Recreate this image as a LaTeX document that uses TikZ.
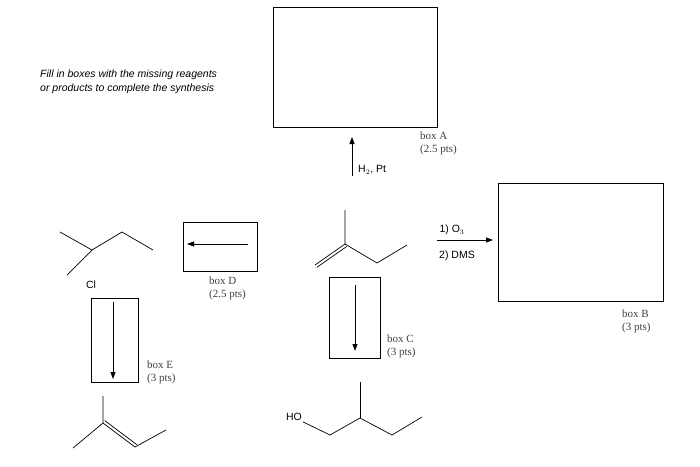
\documentclass[tikz,border=0pt]{standalone}
\usepackage{fontspec}
\setmainfont{Liberation Serif}
\newfontfamily\arialf{Liberation Sans}
\usetikzlibrary{arrows.meta,calc}
\begin{document}
\begin{tikzpicture}[x=1pt,y=-1pt,
  bx/.style={draw,line width=0.9pt},
  bond/.style={line width=0.7pt},
  rarr/.style={line width=0.8pt,-{Triangle[length=7pt,width=5pt]}},
  lab/.style={font=\fontsize{11}{13}\selectfont,text=black!75,align=left,anchor=north west,inner sep=0pt},
  chem/.style={font=\arialf\fontsize{10.5}{12}\selectfont,inner sep=1pt}]
\useasboundingbox (0,0) rectangle (700,466);
\node[lab,font=\arialf\itshape\fontsize{10.5}{14}\selectfont,text=black] (title) at (40,70) {Fill in boxes with the missing reagents\\or products to complete the synthesis};
% box A
\draw[bx] (273,7) rectangle (437,127);
\node[lab] (la) at (420,132) {box A\\(2.5 pts)};
\coordinate (h1) at (352,176); \coordinate (h2) at (352,137);
\draw[rarr] (h1) -- (h2);
\node[chem,anchor=west] (hpt) at (357,170) {H$_2$, Pt};
% center molecule
\coordinate (c1) at (345,210); \coordinate (c2) at (345,244);
\coordinate (c3) at (315,265); \coordinate (c4) at (377,263); \coordinate (c5) at (407,245);
\draw[bond] (c1)--(c2)--(c4)--(c5);
\draw[bond] (c2)--(c3);
\draw[bond] ($(c2)!3pt!90:(c3)$) -- ($(c3)!3pt!-90:(c2)$);
% ozonolysis
\coordinate (o1) at (437,240); \coordinate (o2) at (493,240);
\draw[rarr] (o1)--(o2);
\node[chem] (o3) at (452,230) {1) O$_3$};
\node[chem] (dms) at (457,256) {2) DMS};
\draw[bx] (498,183) rectangle (663,301);
\node[lab] (lb) at (622,310) {box B\\(3 pts)};
% box C
\draw[bx] (329,277) rectangle (380,358);
\coordinate (b1) at (355,285); \coordinate (b2) at (355,351);
\draw[rarr] (b1)--(b2);
\node[lab] (lc) at (387,335) {box C\\(3 pts)};
% bottom molecule
\node[chem] (ho) at (294,417) {HO};
\coordinate (d1) at (330,435); \coordinate (d2) at (360,418); \coordinate (d3) at (360,382);
\coordinate (d4) at (392,435); \coordinate (d5) at (422,417);
\draw[bond] (ho.south east) -- (d1) -- (d2) -- (d4) -- (d5);
\draw[bond] (d2)--(d3);
% left molecule
\coordinate (e0) at (92,250); \coordinate (e1) at (60,232); \coordinate (e2) at (67,275);
\coordinate (e3) at (122,232); \coordinate (e4) at (153,250);
\draw[bond] (e1)--(e0)--(e3)--(e4); \draw[bond] (e0)--(e2);
\node[chem] (cl) at (91,285) {Cl};
% box D
\draw[bx] (183,222) rectangle (257,271);
\coordinate (f1) at (248,244); \coordinate (f2) at (187,244);
\draw[rarr] (f1)--(f2);
\node[lab] (ld) at (209,277) {box D\\(2.5 pts)};
% box E
\draw[bx] (91,298) rectangle (138,382);
\coordinate (g1) at (113,302); \coordinate (g2) at (113,379);
\draw[rarr] (g1)--(g2);
\node[lab] (le) at (147,361) {box E\\(3 pts)};
% bottom-left molecule
\coordinate (k1) at (103,396); \coordinate (k2) at (103,423); \coordinate (k3) at (73,448);
\coordinate (k4) at (135,447); \coordinate (k5) at (166,430);
\draw[bond] (k1)--(k2)--(k3); \draw[bond] (k2)--(k4)--(k5);
\draw[bond] ($(k2)!3pt!90:(k4)$) -- ($(k4)!3pt!-90:(k2)$);
\end{tikzpicture}
\end{document}
